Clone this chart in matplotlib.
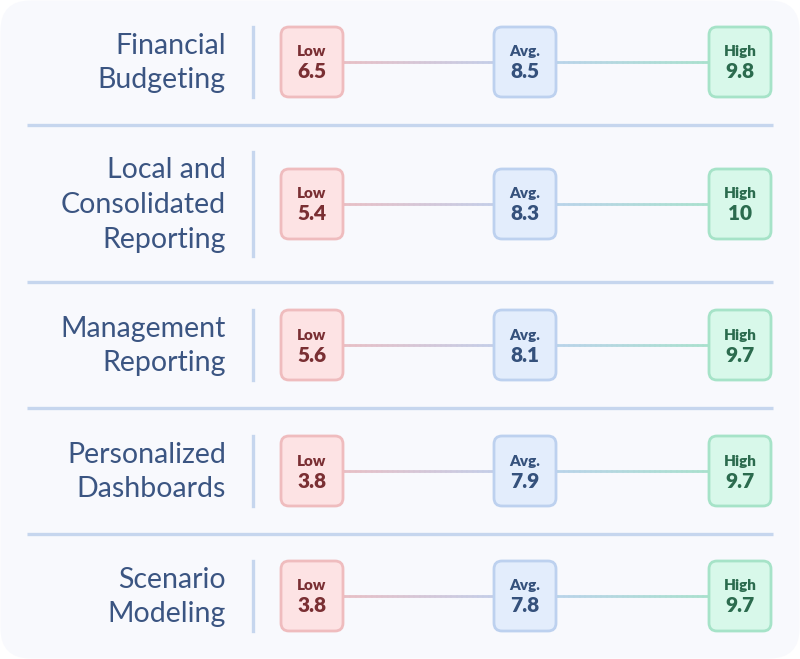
import matplotlib
matplotlib.use('Agg')
import matplotlib.pyplot as plt
import numpy as np
from matplotlib.patches import FancyBboxPatch
from matplotlib.collections import LineCollection
from matplotlib.colors import to_rgb

categories = ['Financial\nBudgeting', 'Local and\nConsolidated\nReporting', 'Management\nReporting',
              'Personalized\nDashboards', 'Scenario\nModeling']
low_vals = [6.5, 5.4, 5.6, 3.8, 3.8]
avg_vals = [8.5, 8.3, 8.1, 7.9, 7.8]
high_vals = [9.8, 10, 9.7, 9.7, 9.7]
box_labels = ['Low', 'Avg.', 'High']

# layout (pixels)
W, H = 800, 659
row_y = [62, 204, 345, 471, 596]
row_h = [70, 104, 70, 70, 70]
sep_y = [125, 282, 408, 534]
box_x = [312, 525, 740]
bw, bh = 62, 70

fills = ['#fde3e4', '#e3edfc', '#d8f8ea']
edges = ['#efbcbe', '#bdd1ef', '#a6e3c8']
txtc = ['#7a2f33', '#35517c', '#2b6b4e']
label_c = '#3b5582'
sep_c = '#c6d6ee'
bg = '#f8f9fd'
FONT = ['Lato', 'DejaVu Sans']

fig = plt.figure(figsize=(8, 6.59), dpi=100)
fig.patch.set_facecolor('white')
ax = fig.add_axes([0, 0, 1, 1])
ax.set_xlim(0, W)
ax.set_ylim(H, 0)
ax.axis('off')

card = FancyBboxPatch((0.5, 0.5), W - 1, H - 1, boxstyle='round,pad=0,rounding_size=30',
                      fc=bg, ec='none', zorder=0)
ax.add_patch(card)

for y in sep_y:
    ax.plot([27, 773], [y, y], color=sep_c, lw=2.4, solid_capstyle='butt', zorder=1)


def grad_line(x0, x1, y, c0, c1):
    n = 40
    xs = np.linspace(x0, x1, n + 1)
    segs = [[(xs[i], y), (xs[i + 1] + 1.0, y)] for i in range(n)]
    a, b = np.array(to_rgb(c0)), np.array(to_rgb(c1))
    cols = [a + (b - a) * t for t in np.linspace(0, 1, n)]
    ax.add_collection(LineCollection(segs, colors=cols, linewidths=2.0, capstyle='butt', zorder=2))


for i, cat in enumerate(categories):
    y = row_y[i]
    ax.text(226, y + 1, cat, ha='right', va='center', fontsize=20.5, color=label_c,
            family=FONT, linespacing=1.42)
    ax.plot([253, 253], [y - row_h[i] / 2, y + row_h[i] / 2], color=sep_c, lw=2.4, zorder=1)
    grad_line(box_x[0], box_x[1], y, '#efbcbe', '#bdd1ef')
    grad_line(box_x[1], box_x[2], y, '#bdd1ef', '#a6e3c8')
    vals = [low_vals[i], avg_vals[i], high_vals[i]]
    for k in range(3):
        bx = box_x[k]
        p = FancyBboxPatch((bx - bw / 2, y - bh / 2), bw, bh,
                           boxstyle='round,pad=0,rounding_size=8',
                           fc=fills[k], ec=edges[k], lw=2, zorder=3)
        ax.add_patch(p)
        ax.text(bx, y - 10, box_labels[k], ha='center', va='center', fontsize=11,
                fontweight='heavy', color=txtc[k], family=FONT, zorder=4)
        ax.text(bx, y + 10, f'{vals[k]:g}', ha='center', va='center', fontsize=15,
                fontweight='heavy', color=txtc[k], family=FONT, zorder=4)

fig.savefig('out.png', dpi=100, facecolor='white')
